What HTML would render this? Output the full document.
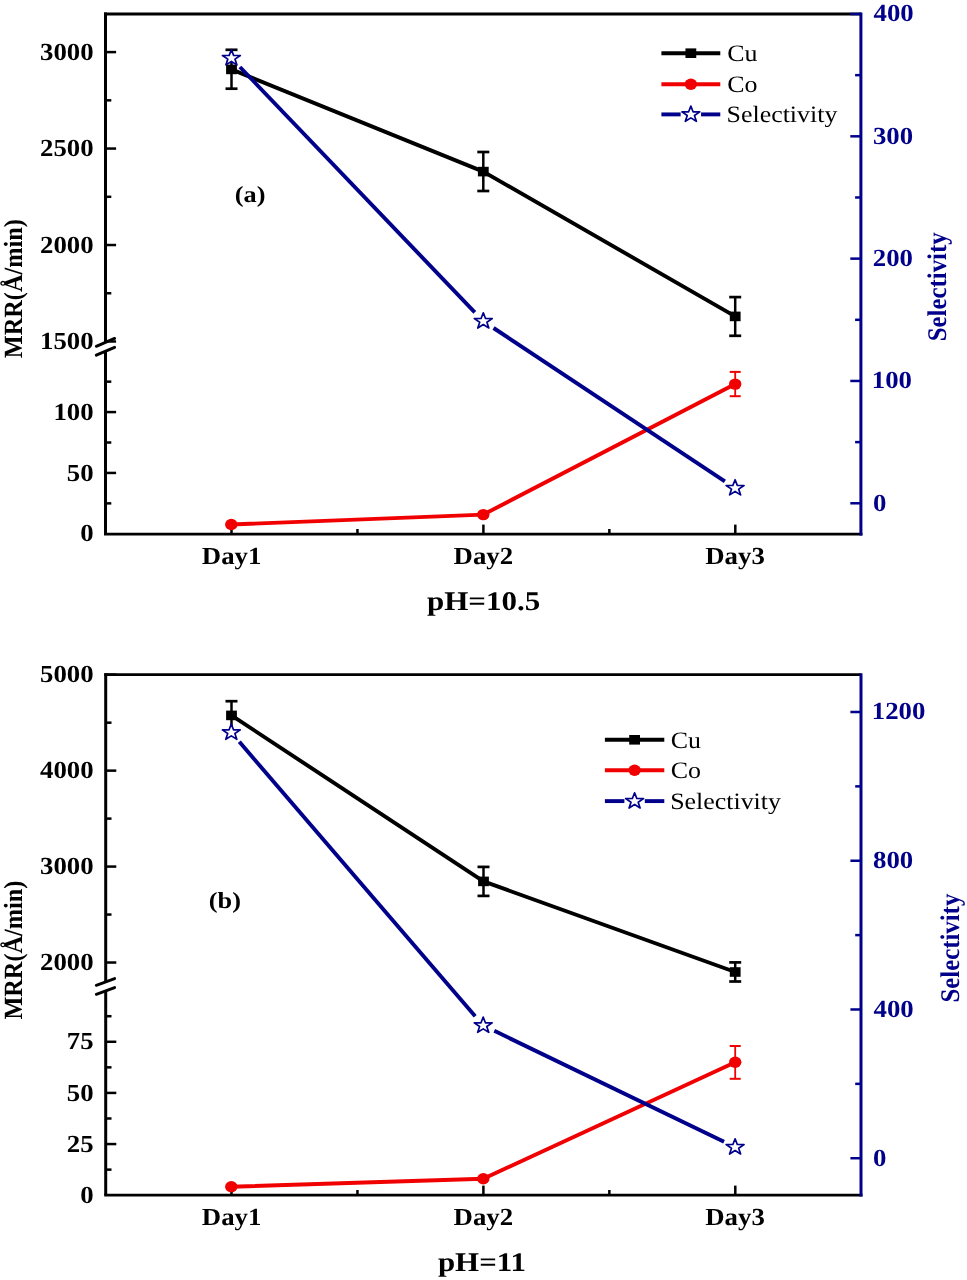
<!DOCTYPE html>
<html><head><meta charset="utf-8"><title>MRR and Selectivity vs Day</title>
<style>
html,body{margin:0;padding:0;background:#fff;}
body{width:967px;height:1280px;overflow:hidden;}
svg{display:block;font-family:"Liberation Serif","Times New Roman",serif;text-rendering:geometricPrecision;}
</style></head>
<body>
<svg width="967" height="1280" viewBox="0 0 967 1280">
<rect width="967" height="1280" fill="#fff"/>
<line x1="104" y1="14" x2="860.9" y2="14" stroke="#000000" stroke-width="2.8" stroke-linecap="butt"/>
<line x1="104" y1="534.2" x2="862.4" y2="534.2" stroke="#000000" stroke-width="2.8" stroke-linecap="butt"/>
<line x1="105.5" y1="12.6" x2="105.5" y2="342.1" stroke="#000000" stroke-width="3" stroke-linecap="butt"/>
<line x1="105.5" y1="351.1" x2="105.5" y2="534.2" stroke="#000000" stroke-width="3" stroke-linecap="butt"/>
<line x1="96.3" y1="346.3" x2="114.6" y2="338.4" stroke="#000000" stroke-width="2.9" stroke-linecap="round"/>
<line x1="96.3" y1="355.2" x2="114.6" y2="347.3" stroke="#000000" stroke-width="2.9" stroke-linecap="round"/>
<line x1="105.5" y1="52.1" x2="116.1" y2="52.1" stroke="#000000" stroke-width="2.5" stroke-linecap="butt"/>
<line x1="105.5" y1="100.33" x2="111.3" y2="100.33" stroke="#000000" stroke-width="2.5" stroke-linecap="butt"/>
<line x1="105.5" y1="148.56" x2="116.1" y2="148.56" stroke="#000000" stroke-width="2.5" stroke-linecap="butt"/>
<line x1="105.5" y1="196.79" x2="111.3" y2="196.79" stroke="#000000" stroke-width="2.5" stroke-linecap="butt"/>
<line x1="105.5" y1="245.02" x2="116.1" y2="245.02" stroke="#000000" stroke-width="2.5" stroke-linecap="butt"/>
<line x1="105.5" y1="293.25" x2="111.3" y2="293.25" stroke="#000000" stroke-width="2.5" stroke-linecap="butt"/>
<line x1="105.5" y1="341.48" x2="116.1" y2="341.48" stroke="#000000" stroke-width="2.5" stroke-linecap="butt"/>
<line x1="105.5" y1="503.37" x2="111.3" y2="503.37" stroke="#000000" stroke-width="2.5" stroke-linecap="butt"/>
<line x1="105.5" y1="472.94" x2="116.1" y2="472.94" stroke="#000000" stroke-width="2.5" stroke-linecap="butt"/>
<line x1="105.5" y1="442.51" x2="111.3" y2="442.51" stroke="#000000" stroke-width="2.5" stroke-linecap="butt"/>
<line x1="105.5" y1="412.08" x2="116.1" y2="412.08" stroke="#000000" stroke-width="2.5" stroke-linecap="butt"/>
<line x1="105.5" y1="381.65" x2="111.3" y2="381.65" stroke="#000000" stroke-width="2.5" stroke-linecap="butt"/>
<line x1="231.5" y1="534.2" x2="231.5" y2="524.6" stroke="#000000" stroke-width="2.5" stroke-linecap="butt"/>
<line x1="357.45" y1="534.2" x2="357.45" y2="529" stroke="#000000" stroke-width="2.5" stroke-linecap="butt"/>
<line x1="483.4" y1="534.2" x2="483.4" y2="524.6" stroke="#000000" stroke-width="2.5" stroke-linecap="butt"/>
<line x1="609.35" y1="534.2" x2="609.35" y2="529" stroke="#000000" stroke-width="2.5" stroke-linecap="butt"/>
<line x1="735.3" y1="534.2" x2="735.3" y2="524.6" stroke="#000000" stroke-width="2.5" stroke-linecap="butt"/>
<line x1="860.9" y1="12.6" x2="860.9" y2="535.6" stroke="#00008a" stroke-width="3" stroke-linecap="butt"/>
<line x1="860.9" y1="14" x2="850.3" y2="14" stroke="#00008a" stroke-width="2.5" stroke-linecap="butt"/>
<line x1="860.9" y1="75.16" x2="855.1" y2="75.16" stroke="#00008a" stroke-width="2.5" stroke-linecap="butt"/>
<line x1="860.9" y1="136.32" x2="850.3" y2="136.32" stroke="#00008a" stroke-width="2.5" stroke-linecap="butt"/>
<line x1="860.9" y1="197.48" x2="855.1" y2="197.48" stroke="#00008a" stroke-width="2.5" stroke-linecap="butt"/>
<line x1="860.9" y1="258.64" x2="850.3" y2="258.64" stroke="#00008a" stroke-width="2.5" stroke-linecap="butt"/>
<line x1="860.9" y1="319.8" x2="855.1" y2="319.8" stroke="#00008a" stroke-width="2.5" stroke-linecap="butt"/>
<line x1="860.9" y1="380.96" x2="850.3" y2="380.96" stroke="#00008a" stroke-width="2.5" stroke-linecap="butt"/>
<line x1="860.9" y1="442.12" x2="855.1" y2="442.12" stroke="#00008a" stroke-width="2.5" stroke-linecap="butt"/>
<line x1="860.9" y1="503.28" x2="850.3" y2="503.28" stroke="#00008a" stroke-width="2.5" stroke-linecap="butt"/>
<text transform="translate(40.02,59.66) scale(1.0894,1)" font-size="24.6" font-weight="bold" fill="#000000">3000</text>
<text transform="translate(40.02,156.16) scale(1.0894,1)" font-size="24.6" font-weight="bold" fill="#000000">2500</text>
<text transform="translate(40.02,252.56) scale(1.0894,1)" font-size="24.6" font-weight="bold" fill="#000000">2000</text>
<text transform="translate(40.02,349.06) scale(1.0894,1)" font-size="24.6" font-weight="bold" fill="#000000">1500</text>
<text transform="translate(53.42,419.66) scale(1.0894,1)" font-size="24.6" font-weight="bold" fill="#000000">100</text>
<text transform="translate(66.82,480.56) scale(1.0894,1)" font-size="24.6" font-weight="bold" fill="#000000">50</text>
<text transform="translate(80.22,541.36) scale(1.0894,1)" font-size="24.6" font-weight="bold" fill="#000000">0</text>
<text transform="translate(873.53,20.56) scale(1.0894,1)" font-size="24.6" font-weight="bold" fill="#00008a">400</text>
<text transform="translate(872.89,143.66) scale(1.0894,1)" font-size="24.6" font-weight="bold" fill="#00008a">300</text>
<text transform="translate(872.77,265.96) scale(1.0894,1)" font-size="24.6" font-weight="bold" fill="#00008a">200</text>
<text transform="translate(871.75,388.26) scale(1.0894,1)" font-size="24.6" font-weight="bold" fill="#00008a">100</text>
<text transform="translate(872.88,510.66) scale(1.0894,1)" font-size="24.6" font-weight="bold" fill="#00008a">0</text>
<text transform="translate(201.78,564.4) scale(1.0894,1)" font-size="24.6" font-weight="bold" fill="#000000">Day1</text>
<text transform="translate(453.56,564.4) scale(1.0894,1)" font-size="24.6" font-weight="bold" fill="#000000">Day2</text>
<text transform="translate(705.25,564.4) scale(1.0894,1)" font-size="24.6" font-weight="bold" fill="#000000">Day3</text>
<text transform="translate(426.94,609.5) scale(1.1481,1)" font-size="27" font-weight="bold" fill="#000000">pH=10.5</text>
<text transform="translate(234.74,202) scale(1.1435,1)" font-size="23" font-weight="bold" fill="#000000">(a)</text>
<text transform="translate(21.6,358.22) rotate(-90) scale(0.2430,0.2630)" font-size="100" font-weight="bold" fill="#000000">MRR(Å/min)</text>
<text transform="translate(945.5,341.22) rotate(-90) scale(0.2480,0.2700)" font-size="100" font-weight="bold" fill="#00008a">Selectivity</text>
<polyline points="231.5,69.4 483.3,171.6 735.2,316.4" fill="none" stroke="#000000" stroke-width="3.9" stroke-linejoin="round"/>
<line x1="231.5" y1="49.8" x2="231.5" y2="88.7" stroke="#000000" stroke-width="2.5" stroke-linecap="butt"/>
<line x1="225.5" y1="49.8" x2="237.5" y2="49.8" stroke="#000000" stroke-width="2.7" stroke-linecap="butt"/>
<line x1="225.5" y1="88.7" x2="237.5" y2="88.7" stroke="#000000" stroke-width="2.7" stroke-linecap="butt"/>
<rect x="226.1" y="64.6" width="10.8" height="9.6" fill="#000000"/>
<line x1="483.3" y1="152" x2="483.3" y2="191" stroke="#000000" stroke-width="2.5" stroke-linecap="butt"/>
<line x1="477.3" y1="152" x2="489.3" y2="152" stroke="#000000" stroke-width="2.7" stroke-linecap="butt"/>
<line x1="477.3" y1="191" x2="489.3" y2="191" stroke="#000000" stroke-width="2.7" stroke-linecap="butt"/>
<rect x="477.9" y="166.8" width="10.8" height="9.6" fill="#000000"/>
<line x1="735.2" y1="297.1" x2="735.2" y2="335.8" stroke="#000000" stroke-width="2.5" stroke-linecap="butt"/>
<line x1="729.2" y1="297.1" x2="741.2" y2="297.1" stroke="#000000" stroke-width="2.7" stroke-linecap="butt"/>
<line x1="729.2" y1="335.8" x2="741.2" y2="335.8" stroke="#000000" stroke-width="2.7" stroke-linecap="butt"/>
<rect x="729.8" y="311.6" width="10.8" height="9.6" fill="#000000"/>
<polyline points="231.3,524.5 483.3,514.6 735.2,384.1" fill="none" stroke="#f00000" stroke-width="3.9" stroke-linejoin="round"/>
<ellipse cx="231.3" cy="524.5" rx="6.2" ry="5.7" fill="#f00000"/>
<ellipse cx="483.3" cy="514.6" rx="6.2" ry="5.7" fill="#f00000"/>
<line x1="735.2" y1="371.9" x2="735.2" y2="396.2" stroke="#f00000" stroke-width="1.8" stroke-linecap="butt"/>
<line x1="729.7" y1="371.9" x2="740.7" y2="371.9" stroke="#f00000" stroke-width="2" stroke-linecap="butt"/>
<line x1="729.7" y1="396.2" x2="740.7" y2="396.2" stroke="#f00000" stroke-width="2" stroke-linecap="butt"/>
<ellipse cx="735.2" cy="384.1" rx="6.2" ry="5.7" fill="#f00000"/>
<line x1="239.91" y1="66.98" x2="474.79" y2="312.32" stroke="#00008a" stroke-width="3.9" stroke-linecap="butt"/>
<line x1="493.55" y1="328" x2="724.85" y2="481.3" stroke="#00008a" stroke-width="3.9" stroke-linecap="butt"/>
<polygon points="231.4,49.7 233.61,55.38 240.34,55.5 234.98,59.14 236.93,64.9 231.4,61.46 225.87,64.9 227.82,59.14 222.46,55.5 229.19,55.38" fill="#fff" stroke="#00008a" stroke-width="1.7" stroke-linejoin="round"/>
<polygon points="483.3,312.8 485.51,318.48 492.24,318.6 486.88,322.24 488.83,328 483.3,324.56 477.77,328 479.72,322.24 474.36,318.6 481.09,318.48" fill="#fff" stroke="#00008a" stroke-width="1.7" stroke-linejoin="round"/>
<polygon points="735.1,479.7 737.31,485.38 744.04,485.5 738.68,489.14 740.63,494.9 735.1,491.46 729.57,494.9 731.52,489.14 726.16,485.5 732.89,485.38" fill="#fff" stroke="#00008a" stroke-width="1.7" stroke-linejoin="round"/>
<line x1="661.4" y1="53.2" x2="720.3" y2="53.2" stroke="#000000" stroke-width="3.9" stroke-linecap="butt"/>
<rect x="685.45" y="48.4" width="10.8" height="9.6" fill="#000000"/>
<line x1="661.4" y1="84.2" x2="720.3" y2="84.2" stroke="#f00000" stroke-width="3.9" stroke-linecap="butt"/>
<ellipse cx="690.85" cy="84.2" rx="6.2" ry="5.7" fill="#f00000"/>
<line x1="661.4" y1="114.4" x2="680.65" y2="114.4" stroke="#00008a" stroke-width="3.9" stroke-linecap="butt"/>
<line x1="701.05" y1="114.4" x2="720.3" y2="114.4" stroke="#00008a" stroke-width="3.9" stroke-linecap="butt"/>
<polygon points="690.85,106.1 693.06,111.78 699.79,111.9 694.43,115.54 696.38,121.3 690.85,117.86 685.32,121.3 687.27,115.54 681.91,111.9 688.64,111.78" fill="#fff" stroke="#00008a" stroke-width="1.7" stroke-linejoin="round"/>
<text transform="translate(727.24,61.2) scale(1.1021,1)" font-size="23.5" font-weight="normal" fill="#000000">Cu</text>
<text transform="translate(727.24,91.7) scale(1.1021,1)" font-size="23.5" font-weight="normal" fill="#000000">Co</text>
<text transform="translate(726.57,122.2) scale(1.1021,1)" font-size="23.5" font-weight="normal" fill="#000000">Selectivity</text>
<line x1="104.2" y1="674.7" x2="861" y2="674.7" stroke="#000000" stroke-width="2.8" stroke-linecap="butt"/>
<line x1="104.2" y1="1195.2" x2="862.5" y2="1195.2" stroke="#000000" stroke-width="2.8" stroke-linecap="butt"/>
<line x1="105.7" y1="673.3" x2="105.7" y2="982" stroke="#000000" stroke-width="3" stroke-linecap="butt"/>
<line x1="105.7" y1="991" x2="105.7" y2="1195.2" stroke="#000000" stroke-width="3" stroke-linecap="butt"/>
<line x1="96.3" y1="985.3" x2="114.6" y2="978.6" stroke="#000000" stroke-width="2.9" stroke-linecap="round"/>
<line x1="96.3" y1="994.3" x2="114.6" y2="987.6" stroke="#000000" stroke-width="2.9" stroke-linecap="round"/>
<line x1="105.7" y1="674.7" x2="116.3" y2="674.7" stroke="#000000" stroke-width="2.5" stroke-linecap="butt"/>
<line x1="105.7" y1="722.67" x2="111.5" y2="722.67" stroke="#000000" stroke-width="2.5" stroke-linecap="butt"/>
<line x1="105.7" y1="770.64" x2="116.3" y2="770.64" stroke="#000000" stroke-width="2.5" stroke-linecap="butt"/>
<line x1="105.7" y1="818.61" x2="111.5" y2="818.61" stroke="#000000" stroke-width="2.5" stroke-linecap="butt"/>
<line x1="105.7" y1="866.58" x2="116.3" y2="866.58" stroke="#000000" stroke-width="2.5" stroke-linecap="butt"/>
<line x1="105.7" y1="914.55" x2="111.5" y2="914.55" stroke="#000000" stroke-width="2.5" stroke-linecap="butt"/>
<line x1="105.7" y1="962.52" x2="116.3" y2="962.52" stroke="#000000" stroke-width="2.5" stroke-linecap="butt"/>
<line x1="105.7" y1="1169.63" x2="111.5" y2="1169.63" stroke="#000000" stroke-width="2.5" stroke-linecap="butt"/>
<line x1="105.7" y1="1144.06" x2="116.3" y2="1144.06" stroke="#000000" stroke-width="2.5" stroke-linecap="butt"/>
<line x1="105.7" y1="1118.49" x2="111.5" y2="1118.49" stroke="#000000" stroke-width="2.5" stroke-linecap="butt"/>
<line x1="105.7" y1="1092.92" x2="116.3" y2="1092.92" stroke="#000000" stroke-width="2.5" stroke-linecap="butt"/>
<line x1="105.7" y1="1067.35" x2="111.5" y2="1067.35" stroke="#000000" stroke-width="2.5" stroke-linecap="butt"/>
<line x1="105.7" y1="1041.78" x2="116.3" y2="1041.78" stroke="#000000" stroke-width="2.5" stroke-linecap="butt"/>
<line x1="105.7" y1="1016.21" x2="111.5" y2="1016.21" stroke="#000000" stroke-width="2.5" stroke-linecap="butt"/>
<line x1="231.5" y1="1195.2" x2="231.5" y2="1185.6" stroke="#000000" stroke-width="2.5" stroke-linecap="butt"/>
<line x1="357.45" y1="1195.2" x2="357.45" y2="1190" stroke="#000000" stroke-width="2.5" stroke-linecap="butt"/>
<line x1="483.4" y1="1195.2" x2="483.4" y2="1185.6" stroke="#000000" stroke-width="2.5" stroke-linecap="butt"/>
<line x1="609.35" y1="1195.2" x2="609.35" y2="1190" stroke="#000000" stroke-width="2.5" stroke-linecap="butt"/>
<line x1="735.3" y1="1195.2" x2="735.3" y2="1185.6" stroke="#000000" stroke-width="2.5" stroke-linecap="butt"/>
<line x1="861" y1="673.3" x2="861" y2="1196.6" stroke="#00008a" stroke-width="3" stroke-linecap="butt"/>
<line x1="861" y1="712" x2="850.4" y2="712" stroke="#00008a" stroke-width="2.5" stroke-linecap="butt"/>
<line x1="861" y1="786.37" x2="855.2" y2="786.37" stroke="#00008a" stroke-width="2.5" stroke-linecap="butt"/>
<line x1="861" y1="860.74" x2="850.4" y2="860.74" stroke="#00008a" stroke-width="2.5" stroke-linecap="butt"/>
<line x1="861" y1="935.11" x2="855.2" y2="935.11" stroke="#00008a" stroke-width="2.5" stroke-linecap="butt"/>
<line x1="861" y1="1009.48" x2="850.4" y2="1009.48" stroke="#00008a" stroke-width="2.5" stroke-linecap="butt"/>
<line x1="861" y1="1083.85" x2="855.2" y2="1083.85" stroke="#00008a" stroke-width="2.5" stroke-linecap="butt"/>
<line x1="861" y1="1158.22" x2="850.4" y2="1158.22" stroke="#00008a" stroke-width="2.5" stroke-linecap="butt"/>
<text transform="translate(40.02,682.26) scale(1.0894,1)" font-size="24.6" font-weight="bold" fill="#000000">5000</text>
<text transform="translate(40.02,778.16) scale(1.0894,1)" font-size="24.6" font-weight="bold" fill="#000000">4000</text>
<text transform="translate(40.02,874.16) scale(1.0894,1)" font-size="24.6" font-weight="bold" fill="#000000">3000</text>
<text transform="translate(40.02,970.06) scale(1.0894,1)" font-size="24.6" font-weight="bold" fill="#000000">2000</text>
<text transform="translate(66.78,1049.23) scale(1.0894,1)" font-size="24.6" font-weight="bold" fill="#000000">75</text>
<text transform="translate(66.82,1100.56) scale(1.0894,1)" font-size="24.6" font-weight="bold" fill="#000000">50</text>
<text transform="translate(66.78,1151.62) scale(1.0894,1)" font-size="24.6" font-weight="bold" fill="#000000">25</text>
<text transform="translate(80.22,1202.76) scale(1.0894,1)" font-size="24.6" font-weight="bold" fill="#000000">0</text>
<text transform="translate(871.75,719.36) scale(1.0894,1)" font-size="24.6" font-weight="bold" fill="#00008a">1200</text>
<text transform="translate(873.01,868.06) scale(1.0894,1)" font-size="24.6" font-weight="bold" fill="#00008a">800</text>
<text transform="translate(873.53,1016.86) scale(1.0894,1)" font-size="24.6" font-weight="bold" fill="#00008a">400</text>
<text transform="translate(872.88,1165.56) scale(1.0894,1)" font-size="24.6" font-weight="bold" fill="#00008a">0</text>
<text transform="translate(201.78,1225.3) scale(1.0894,1)" font-size="24.6" font-weight="bold" fill="#000000">Day1</text>
<text transform="translate(453.56,1225.3) scale(1.0894,1)" font-size="24.6" font-weight="bold" fill="#000000">Day2</text>
<text transform="translate(705.25,1225.3) scale(1.0894,1)" font-size="24.6" font-weight="bold" fill="#000000">Day3</text>
<text transform="translate(437.94,1271) scale(1.1444,1)" font-size="27" font-weight="bold" fill="#000000">pH=11</text>
<text transform="translate(208.84,908) scale(1.1435,1)" font-size="23" font-weight="bold" fill="#000000">(b)</text>
<text transform="translate(21.6,1019.62) rotate(-90) scale(0.2430,0.2630)" font-size="100" font-weight="bold" fill="#000000">MRR(Å/min)</text>
<text transform="translate(958.7,1002.52) rotate(-90) scale(0.2480,0.2700)" font-size="100" font-weight="bold" fill="#00008a">Selectivity</text>
<polyline points="231.5,715.4 483.5,881.4 735.2,972" fill="none" stroke="#000000" stroke-width="3.9" stroke-linejoin="round"/>
<line x1="231.5" y1="701.2" x2="231.5" y2="726" stroke="#000000" stroke-width="2.5" stroke-linecap="butt"/>
<line x1="225.5" y1="701.2" x2="237.5" y2="701.2" stroke="#000000" stroke-width="2.7" stroke-linecap="butt"/>
<rect x="226.1" y="710.6" width="10.8" height="9.6" fill="#000000"/>
<line x1="483.5" y1="866.9" x2="483.5" y2="895.9" stroke="#000000" stroke-width="2.5" stroke-linecap="butt"/>
<line x1="477.5" y1="866.9" x2="489.5" y2="866.9" stroke="#000000" stroke-width="2.7" stroke-linecap="butt"/>
<line x1="477.5" y1="895.9" x2="489.5" y2="895.9" stroke="#000000" stroke-width="2.7" stroke-linecap="butt"/>
<rect x="478.1" y="876.6" width="10.8" height="9.6" fill="#000000"/>
<line x1="735.2" y1="962.4" x2="735.2" y2="981.5" stroke="#000000" stroke-width="2.5" stroke-linecap="butt"/>
<line x1="729.2" y1="962.4" x2="741.2" y2="962.4" stroke="#000000" stroke-width="2.7" stroke-linecap="butt"/>
<line x1="729.2" y1="981.5" x2="741.2" y2="981.5" stroke="#000000" stroke-width="2.7" stroke-linecap="butt"/>
<rect x="729.8" y="967.2" width="10.8" height="9.6" fill="#000000"/>
<polyline points="231.3,1186.7 483.3,1178.8 735.2,1062.3" fill="none" stroke="#f00000" stroke-width="3.9" stroke-linejoin="round"/>
<ellipse cx="231.3" cy="1186.7" rx="6.2" ry="5.7" fill="#f00000"/>
<ellipse cx="483.3" cy="1178.8" rx="6.2" ry="5.7" fill="#f00000"/>
<line x1="735.2" y1="1046" x2="735.2" y2="1078.8" stroke="#f00000" stroke-width="1.8" stroke-linecap="butt"/>
<line x1="729.7" y1="1046" x2="740.7" y2="1046" stroke="#f00000" stroke-width="2" stroke-linecap="butt"/>
<line x1="729.7" y1="1078.8" x2="740.7" y2="1078.8" stroke="#f00000" stroke-width="2" stroke-linecap="butt"/>
<ellipse cx="735.2" cy="1062.3" rx="6.2" ry="5.7" fill="#f00000"/>
<line x1="239.32" y1="741.83" x2="475.18" y2="1016.17" stroke="#00008a" stroke-width="3.9" stroke-linecap="butt"/>
<line x1="494.28" y1="1030.85" x2="724.02" y2="1141.85" stroke="#00008a" stroke-width="3.9" stroke-linecap="butt"/>
<polygon points="231.3,724.1 233.51,729.78 240.24,729.9 234.88,733.54 236.83,739.3 231.3,735.86 225.77,739.3 227.72,733.54 222.36,729.9 229.09,729.78" fill="#fff" stroke="#00008a" stroke-width="1.7" stroke-linejoin="round"/>
<polygon points="483.2,1017.1 485.41,1022.78 492.14,1022.9 486.78,1026.54 488.73,1032.3 483.2,1028.86 477.67,1032.3 479.62,1026.54 474.26,1022.9 480.99,1022.78" fill="#fff" stroke="#00008a" stroke-width="1.7" stroke-linejoin="round"/>
<polygon points="735.1,1138.8 737.31,1144.48 744.04,1144.6 738.68,1148.24 740.63,1154 735.1,1150.56 729.57,1154 731.52,1148.24 726.16,1144.6 732.89,1144.48" fill="#fff" stroke="#00008a" stroke-width="1.7" stroke-linejoin="round"/>
<line x1="604.9" y1="739.8" x2="664.3" y2="739.8" stroke="#000000" stroke-width="3.9" stroke-linecap="butt"/>
<rect x="629.2" y="735" width="10.8" height="9.6" fill="#000000"/>
<line x1="604.9" y1="770.3" x2="664.3" y2="770.3" stroke="#f00000" stroke-width="3.9" stroke-linecap="butt"/>
<ellipse cx="634.6" cy="770.3" rx="6.2" ry="5.7" fill="#f00000"/>
<line x1="604.9" y1="801.1" x2="624.4" y2="801.1" stroke="#00008a" stroke-width="3.9" stroke-linecap="butt"/>
<line x1="644.8" y1="801.1" x2="664.3" y2="801.1" stroke="#00008a" stroke-width="3.9" stroke-linecap="butt"/>
<polygon points="634.6,792.8 636.81,798.48 643.54,798.6 638.18,802.24 640.13,808 634.6,804.56 629.07,808 631.02,802.24 625.66,798.6 632.39,798.48" fill="#fff" stroke="#00008a" stroke-width="1.7" stroke-linejoin="round"/>
<text transform="translate(670.84,748) scale(1.1021,1)" font-size="23.5" font-weight="normal" fill="#000000">Cu</text>
<text transform="translate(670.84,778.4) scale(1.1021,1)" font-size="23.5" font-weight="normal" fill="#000000">Co</text>
<text transform="translate(670.17,809) scale(1.1021,1)" font-size="23.5" font-weight="normal" fill="#000000">Selectivity</text>
</svg>
</body></html>
